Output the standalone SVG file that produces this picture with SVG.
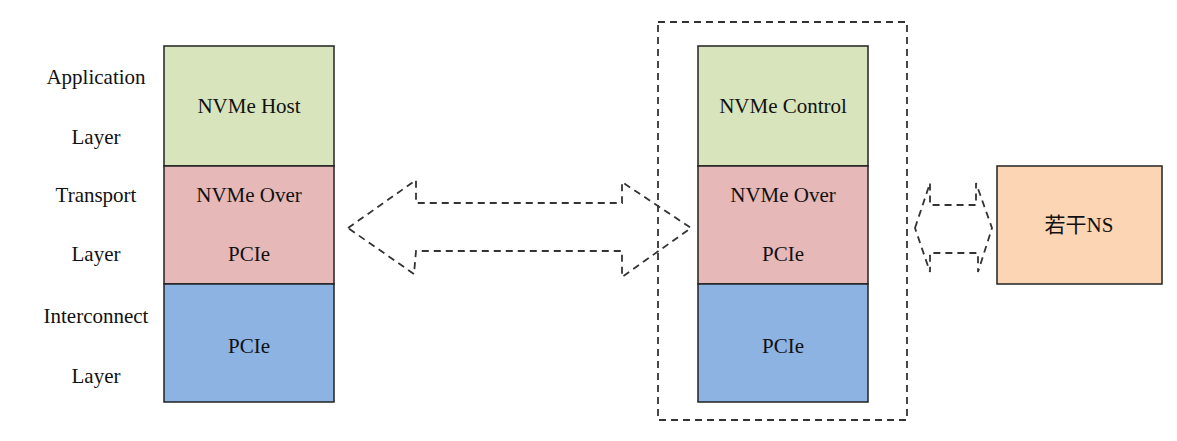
<svg xmlns="http://www.w3.org/2000/svg" width="1177" height="441" viewBox="0 0 1177 441">
<style>
text{font-family:"Liberation Serif","Noto Sans CJK SC",serif;font-size:21px;fill:#111;text-anchor:middle}
.b{stroke:#222;stroke-width:1.5}
.d{fill:none;stroke:#333;stroke-width:1.8;stroke-dasharray:7,5}
</style>
<rect width="1177" height="441" fill="#fff"/>
<g id="labels">
<text x="96" y="84">Application</text><text x="96" y="144">Layer</text>
<text x="96" y="202">Transport</text><text x="96" y="261">Layer</text>
<text x="96" y="323">Interconnect</text><text x="96" y="383">Layer</text>
</g>
<g id="host-app"><rect class="b" x="164" y="46" width="170" height="120" fill="#d8e4bc"/><text x="249" y="113">NVMe Host</text></g>
<g id="host-trans"><rect class="b" x="164" y="166" width="170" height="118" fill="#e6b8b7"/><text x="249" y="202">NVMe Over</text><text x="249" y="261">PCIe</text></g>
<g id="host-pcie"><rect class="b" x="164" y="284" width="170" height="118" fill="#8db3e2"/><text x="249" y="353">PCIe</text></g>
<g id="ctrl-box"><rect class="d" x="658" y="22" width="249" height="398"/></g>
<g id="ctrl-app"><rect class="b" x="698" y="46" width="170" height="120" fill="#d8e4bc"/><text x="783" y="113">NVMe Control</text></g>
<g id="ctrl-trans"><rect class="b" x="698" y="166" width="170" height="118" fill="#e6b8b7"/><text x="783" y="202">NVMe Over</text><text x="783" y="261">PCIe</text></g>
<g id="ctrl-pcie"><rect class="b" x="698" y="284" width="170" height="118" fill="#8db3e2"/><text x="783" y="353">PCIe</text></g>
<g id="ns"><rect class="b" x="997" y="166" width="165" height="118" fill="#fcd5b4"/><text x="1079" y="232">若干NS</text></g>
<g id="connectors">
<path class="d" d="M348,228 L416,180 L416,203 L622,203 L622,182 L691,228 L622,277 L622,251 L416,251 L414,274 Z"/>
<path class="d" d="M915,228 L930,183 L930,205 L976,205 L976,183 L992,228 L978,272 L978,253 L930,253 L930,272 Z"/>
</g>
</svg>
